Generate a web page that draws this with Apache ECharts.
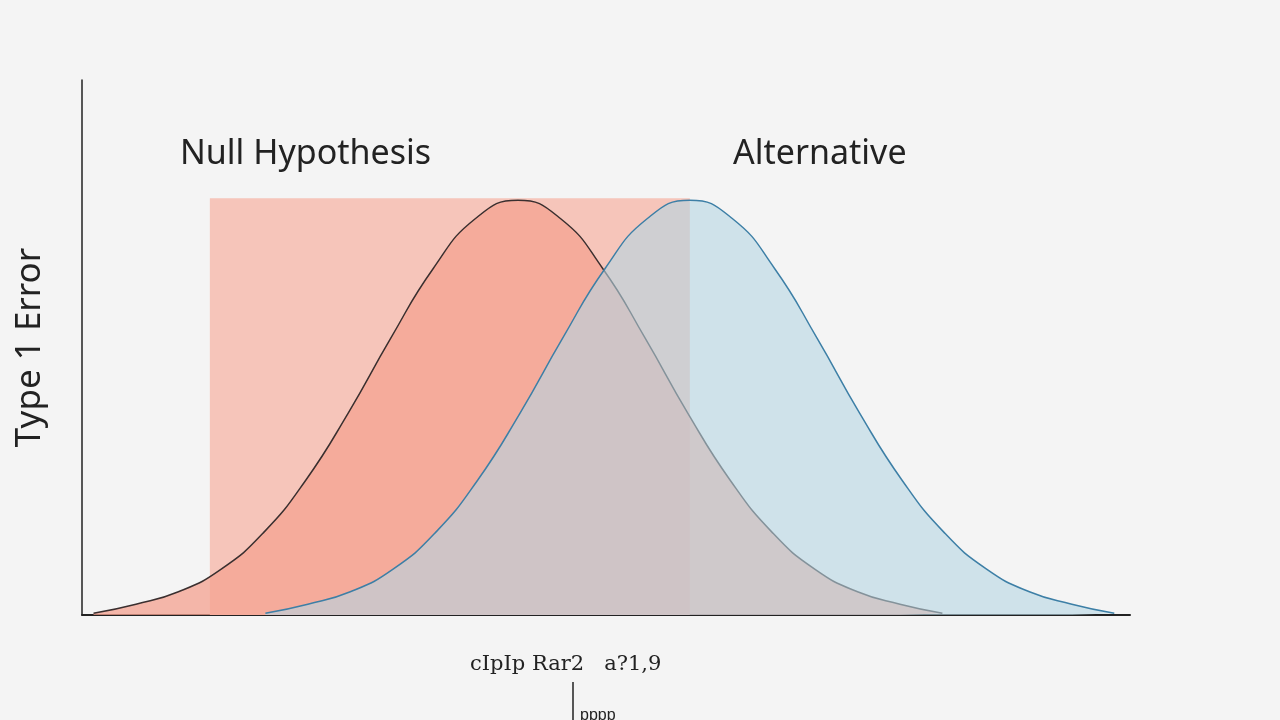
<!DOCTYPE html><html><head><meta charset="utf-8">
<script src="https://cdn.jsdelivr.net/npm/echarts@6/dist/echarts.min.js"></script>
<style>html,body{margin:0;background:#f4f4f4}#c{width:1280px;height:720px}</style></head><body><div id="c"></div>
<script>
const nullX=[1.1,5.15,9.2,13.25,17.3,21.35,25.4,29.45,33.5,37.55,41.6,45.65,49.7,53.75,57.8,61.85,65.9,69.95,74.0,78.05,82.1];
const altX=[17.5,21.55,25.6,29.65,33.7,37.75,41.8,45.85,49.9,53.95,58,62.05,66.1,70.15,74.2,78.25,82.3,86.35,90.4,94.45,98.5];
const curveY=[0.4,2.6,5.6,11.0,19.8,32.5,48.7,66.7,83.5,95.6,100,95.6,83.5,66.7,48.7,32.5,19.8,11.0,5.6,2.6,0.4];
const rejectRegion=[12.2,58.0,100.5];
const labels=["Null Hypothesis","Alternative","Type 1 Error","cIpIp Rar2   a?1,9"];
const chart=echarts.init(document.getElementById('c'));
chart.setOption({
 backgroundColor:'#f4f4f4',animation:false,
 grid:{left:82,right:150,top:80,bottom:105},
 xAxis:{type:'value',min:0,max:100,axisLine:{lineStyle:{color:'#222',width:2}},axisTick:{show:false},axisLabel:{show:false},splitLine:{show:false}},
 yAxis:{type:'value',min:0,max:129,name:labels[2],nameLocation:'middle',nameGap:34,nameTextStyle:{fontSize:35,color:'#222',fontFamily:'Noto Sans'},
   axisLine:{show:true,lineStyle:{color:'#222',width:1.5}},axisTick:{show:false},axisLabel:{show:false},splitLine:{show:false}},
 series:[
  {type:'line',data:nullX.map((x,i)=>[x,curveY[i]]),smooth:0.5,symbol:'none',z:3,
   lineStyle:{color:'#3a2f2f',width:1.5},areaStyle:{color:'#f4a290',opacity:0.75},
   markArea:{silent:true,itemStyle:{color:'#f6c5ba'},data:[[{xAxis:rejectRegion[0],yAxis:0},{xAxis:rejectRegion[1],yAxis:rejectRegion[2]}]]}},
  {type:'line',data:altX.map((x,i)=>[x,curveY[i]]),smooth:0.5,symbol:'none',z:4,
   lineStyle:{color:'#3d7fa6',width:1.5},areaStyle:{color:'#b5d5e3',opacity:0.6}}
 ],
 graphic:[
  {type:'text',left:180,top:137,style:{text:labels[0],fontSize:34,fill:'#222',fontFamily:'Noto Sans'}},
  {type:'text',left:733,top:137,style:{text:labels[1],fontSize:34,fill:'#222',fontFamily:'Noto Sans'}},
  {type:'text',left:470,top:654,style:{text:labels[3],fontSize:21,fill:'#222',fontFamily:'DejaVu Serif'}},
  {type:'line',shape:{x1:573,y1:682,x2:573,y2:720},style:{stroke:'#222',lineWidth:1.5}},
  {type:'text',left:580,top:708,style:{text:'pppp',fontSize:16,fill:'#222'}}
 ]
});
</script></body></html>
